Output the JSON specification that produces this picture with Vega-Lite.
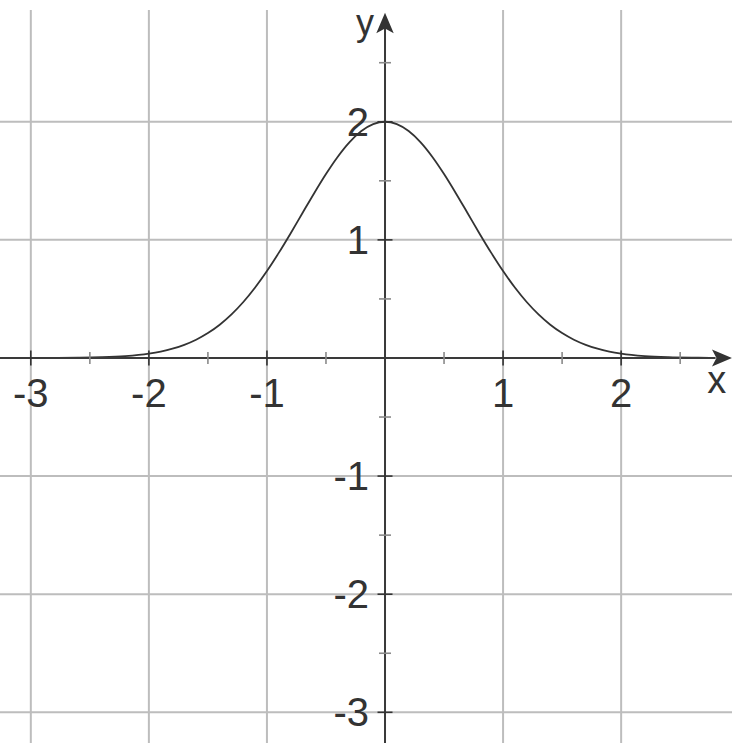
{
  "$schema": "https://vega.github.io/schema/vega-lite/v6.json",
  "description": "Bell curve y = 2e^(-x^2) on a grid",
  "width": 732,
  "height": 743,
  "autosize": {"type": "none"},
  "padding": 0,
  "background": "white",
  "datasets": {
    "curve": [
      {"x": -3.26, "y": 0.0000}, {"x": -3.0, "y": 0.0002}, {"x": -2.8, "y": 0.0008},
      {"x": -2.6, "y": 0.0023}, {"x": -2.4, "y": 0.0063}, {"x": -2.2, "y": 0.0158},
      {"x": -2.0, "y": 0.0366}, {"x": -1.9, "y": 0.0541}, {"x": -1.8, "y": 0.0783},
      {"x": -1.7, "y": 0.1112}, {"x": -1.6, "y": 0.1546}, {"x": -1.5, "y": 0.2108},
      {"x": -1.4, "y": 0.2817}, {"x": -1.3, "y": 0.3691}, {"x": -1.2, "y": 0.4738},
      {"x": -1.1, "y": 0.5964}, {"x": -1.0, "y": 0.7358}, {"x": -0.9, "y": 0.8898},
      {"x": -0.8, "y": 1.0546}, {"x": -0.7, "y": 1.2253}, {"x": -0.6, "y": 1.3954},
      {"x": -0.5, "y": 1.5576}, {"x": -0.4, "y": 1.7043}, {"x": -0.3, "y": 1.8279},
      {"x": -0.2, "y": 1.9216}, {"x": -0.1, "y": 1.9801}, {"x": 0.0, "y": 2.0},
      {"x": 0.1, "y": 1.9801}, {"x": 0.2, "y": 1.9216}, {"x": 0.3, "y": 1.8279},
      {"x": 0.4, "y": 1.7043}, {"x": 0.5, "y": 1.5576}, {"x": 0.6, "y": 1.3954},
      {"x": 0.7, "y": 1.2253}, {"x": 0.8, "y": 1.0546}, {"x": 0.9, "y": 0.8898},
      {"x": 1.0, "y": 0.7358}, {"x": 1.1, "y": 0.5964}, {"x": 1.2, "y": 0.4738},
      {"x": 1.3, "y": 0.3691}, {"x": 1.4, "y": 0.2817}, {"x": 1.5, "y": 0.2108},
      {"x": 1.6, "y": 0.1546}, {"x": 1.7, "y": 0.1112}, {"x": 1.8, "y": 0.0783},
      {"x": 1.9, "y": 0.0541}, {"x": 2.0, "y": 0.0366}, {"x": 2.2, "y": 0.0158},
      {"x": 2.4, "y": 0.0063}, {"x": 2.6, "y": 0.0023}, {"x": 2.75, "y": 0.0011}
    ],
    "vgrid": [{"x": -3}, {"x": -2}, {"x": -1}, {"x": 1}, {"x": 2}],
    "hgrid": [{"y": -3}, {"y": -2}, {"y": -1}, {"y": 1}, {"y": 2}],
    "xticks": [
      {"x": -3, "kind": "major"}, {"x": -2.5, "kind": "minor"}, {"x": -2, "kind": "major"},
      {"x": -1.5, "kind": "minor"}, {"x": -1, "kind": "major"}, {"x": -0.5, "kind": "minor"},
      {"x": 0.5, "kind": "minor"}, {"x": 1, "kind": "major"}, {"x": 1.5, "kind": "minor"},
      {"x": 2, "kind": "major"}, {"x": 2.5, "kind": "minor"}
    ],
    "yticks": [
      {"y": -3, "kind": "major"}, {"y": -2.5, "kind": "minor"}, {"y": -2, "kind": "major"},
      {"y": -1.5, "kind": "minor"}, {"y": -1, "kind": "major"}, {"y": -0.5, "kind": "minor"},
      {"y": 0.5, "kind": "minor"}, {"y": 1, "kind": "major"}, {"y": 1.5, "kind": "minor"},
      {"y": 2, "kind": "major"}, {"y": 2.5, "kind": "minor"}
    ],
    "xlabels": [
      {"x": -3, "label": "-3"}, {"x": -2, "label": "-2"}, {"x": -1, "label": "-1"},
      {"x": 1, "label": "1"}, {"x": 2, "label": "2"}
    ],
    "ylabels": [
      {"y": 2, "label": "2"}, {"y": 1, "label": "1"}, {"y": -1, "label": "-1"},
      {"y": -2, "label": "-2"}, {"y": -3, "label": "-3"}
    ]
  },
  "layer": [
    {
      "data": {"name": "vgrid"},
      "mark": {"type": "rule", "color": "#bdbdbd", "strokeWidth": 2},
      "encoding": {
        "x": {"field": "x", "type": "quantitative", "scale": {"domain": [-3.261, 2.939], "nice": false, "zero": false}, "axis": null},
        "y": {"datum": -3.26, "type": "quantitative", "scale": {"domain": [-3.26, 3.031], "nice": false, "zero": false}, "axis": null},
        "y2": {"datum": 2.946}
      }
    },
    {
      "data": {"name": "hgrid"},
      "mark": {"type": "rule", "color": "#bdbdbd", "strokeWidth": 2},
      "encoding": {
        "x": {"datum": -3.261, "type": "quantitative", "scale": {"domain": [-3.261, 2.939], "nice": false, "zero": false}, "axis": null},
        "x2": {"datum": 2.939},
        "y": {"field": "y", "type": "quantitative", "scale": {"domain": [-3.26, 3.031], "nice": false, "zero": false}, "axis": null}
      }
    },
    {
      "data": {"name": "curve"},
      "mark": {"type": "line", "color": "#333333", "strokeWidth": 1.8, "interpolate": "monotone"},
      "encoding": {
        "x": {"field": "x", "type": "quantitative", "scale": {"domain": [-3.261, 2.939], "nice": false, "zero": false}, "axis": null},
        "y": {"field": "y", "type": "quantitative", "scale": {"domain": [-3.26, 3.031], "nice": false, "zero": false}, "axis": null}
      }
    },
    {
      "data": {"values": [{"axis": "x"}]},
      "mark": {"type": "rule", "color": "#3a3a3a", "strokeWidth": 2},
      "encoding": {
        "x": {"datum": -3.261, "type": "quantitative", "scale": {"domain": [-3.261, 2.939], "nice": false, "zero": false}, "axis": null},
        "x2": {"datum": 2.8},
        "y": {"datum": 0, "type": "quantitative", "scale": {"domain": [-3.26, 3.031], "nice": false, "zero": false}, "axis": null}
      }
    },
    {
      "data": {"values": [{"axis": "y"}]},
      "mark": {"type": "rule", "color": "#3a3a3a", "strokeWidth": 2},
      "encoding": {
        "x": {"datum": 0, "type": "quantitative", "scale": {"domain": [-3.261, 2.939], "nice": false, "zero": false}, "axis": null},
        "y": {"datum": -3.26, "type": "quantitative", "scale": {"domain": [-3.26, 3.031], "nice": false, "zero": false}, "axis": null},
        "y2": {"datum": 2.8}
      }
    },
    {
      "data": {"name": "xticks"},
      "mark": {"type": "point", "shape": "M0,-1L0,1", "filled": false, "strokeWidth": 1.6, "opacity": 1},
      "encoding": {
        "x": {"field": "x", "type": "quantitative", "scale": {"domain": [-3.261, 2.939], "nice": false, "zero": false}, "axis": null},
        "y": {"datum": 0, "type": "quantitative", "scale": {"domain": [-3.26, 3.031], "nice": false, "zero": false}, "axis": null},
        "size": {"field": "kind", "type": "nominal", "scale": {"domain": ["major", "minor"], "range": [225, 144]}, "legend": null},
        "stroke": {"field": "kind", "type": "nominal", "scale": {"domain": ["major", "minor"], "range": ["#333333", "#8a8a8a"]}, "legend": null}
      }
    },
    {
      "data": {"name": "yticks"},
      "mark": {"type": "point", "shape": "M-1,0L1,0", "filled": false, "strokeWidth": 1.6, "opacity": 1},
      "encoding": {
        "x": {"datum": 0, "type": "quantitative", "scale": {"domain": [-3.261, 2.939], "nice": false, "zero": false}, "axis": null},
        "y": {"field": "y", "type": "quantitative", "scale": {"domain": [-3.26, 3.031], "nice": false, "zero": false}, "axis": null},
        "size": {"field": "kind", "type": "nominal", "scale": {"domain": ["major", "minor"], "range": [225, 144]}, "legend": null},
        "stroke": {"field": "kind", "type": "nominal", "scale": {"domain": ["major", "minor"], "range": ["#333333", "#8a8a8a"]}, "legend": null}
      }
    },
    {
      "data": {"values": [{"x": 2.854, "y": 0}]},
      "mark": {"type": "point", "shape": "M1,0L-1,-0.85L-0.55,0L-1,0.85Z", "filled": true, "color": "#333333", "size": 400, "opacity": 1},
      "encoding": {
        "x": {"field": "x", "type": "quantitative", "scale": {"domain": [-3.261, 2.939], "nice": false, "zero": false}, "axis": null},
        "y": {"field": "y", "type": "quantitative", "scale": {"domain": [-3.26, 3.031], "nice": false, "zero": false}, "axis": null}
      }
    },
    {
      "data": {"values": [{"x": 0, "y": 2.837}]},
      "mark": {"type": "point", "shape": "M0,-1L-0.85,1L0,0.55L0.85,1Z", "filled": true, "color": "#333333", "size": 420, "opacity": 1},
      "encoding": {
        "x": {"field": "x", "type": "quantitative", "scale": {"domain": [-3.261, 2.939], "nice": false, "zero": false}, "axis": null},
        "y": {"field": "y", "type": "quantitative", "scale": {"domain": [-3.26, 3.031], "nice": false, "zero": false}, "axis": null}
      }
    },
    {
      "data": {"name": "xlabels"},
      "mark": {"type": "text", "font": "Liberation Sans", "fontSize": 40, "color": "#333333", "align": "center", "baseline": "alphabetic", "dy": 49},
      "encoding": {
        "x": {"field": "x", "type": "quantitative", "scale": {"domain": [-3.261, 2.939], "nice": false, "zero": false}, "axis": null},
        "y": {"datum": 0, "type": "quantitative", "scale": {"domain": [-3.26, 3.031], "nice": false, "zero": false}, "axis": null},
        "text": {"field": "label"}
      }
    },
    {
      "data": {"name": "ylabels"},
      "mark": {"type": "text", "font": "Liberation Sans", "fontSize": 40, "color": "#333333", "align": "right", "baseline": "alphabetic", "dx": -16, "dy": 14},
      "encoding": {
        "x": {"datum": 0, "type": "quantitative", "scale": {"domain": [-3.261, 2.939], "nice": false, "zero": false}, "axis": null},
        "y": {"field": "y", "type": "quantitative", "scale": {"domain": [-3.26, 3.031], "nice": false, "zero": false}, "axis": null},
        "text": {"field": "label"}
      }
    },
    {
      "data": {"values": [{"x": 2.81, "y": -0.296, "label": "x"}]},
      "mark": {"type": "text", "font": "Liberation Sans", "fontSize": 38, "color": "#333333", "align": "center", "baseline": "alphabetic"},
      "encoding": {
        "x": {"field": "x", "type": "quantitative", "scale": {"domain": [-3.261, 2.939], "nice": false, "zero": false}, "axis": null},
        "y": {"field": "y", "type": "quantitative", "scale": {"domain": [-3.26, 3.031], "nice": false, "zero": false}, "axis": null},
        "text": {"field": "label"}
      }
    },
    {
      "data": {"values": [{"x": -0.17, "y": 2.735, "label": "y"}]},
      "mark": {"type": "text", "font": "Liberation Sans", "fontSize": 36, "color": "#333333", "align": "center", "baseline": "alphabetic"},
      "encoding": {
        "x": {"field": "x", "type": "quantitative", "scale": {"domain": [-3.261, 2.939], "nice": false, "zero": false}, "axis": null},
        "y": {"field": "y", "type": "quantitative", "scale": {"domain": [-3.26, 3.031], "nice": false, "zero": false}, "axis": null},
        "text": {"field": "label"}
      }
    }
  ],
  "config": {"view": {"stroke": null}, "font": "Liberation Sans"}
}
